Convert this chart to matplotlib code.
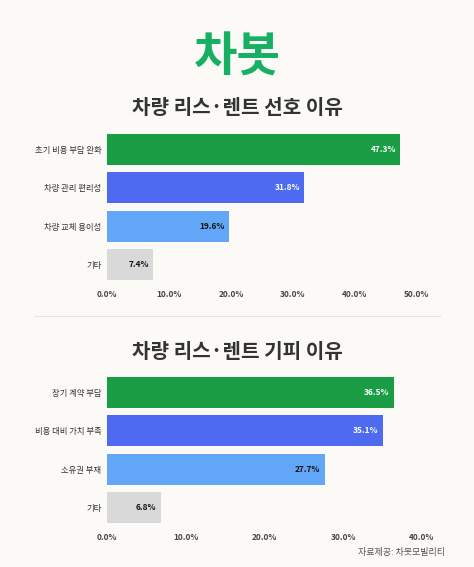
import matplotlib
matplotlib.use("Agg")
import matplotlib.pyplot as plt

plt.rcParams['font.family'] = ['Noto Sans CJK KR', 'DejaVu Sans']

cats1 = ["초기 비용 부담 완화", "차량 관리 편리성", "차량 교체 용이성", "기타"]
vals1 = [47.3, 31.8, 19.6, 7.4]
cats2 = ["장기 계약 부담", "비용 대비 가치 부족", "소유권 부재", "기타"]
vals2 = [36.5, 35.1, 27.7, 6.8]
colors = ["#1a9e45", "#4d6af0", "#62a6f8", "#d9d9d9"]
txtcol = ["white", "white", "#111111", "#111111"]
ticks1 = [0, 10, 20, 30, 40, 50]
ticks2 = [0, 10, 20, 30, 40]

bg = "#fbfaf7"
fig = plt.figure(figsize=(4.74, 5.67), dpi=100, facecolor=bg)

fig.text(0.5, 1 - 58/567, "차봇", ha="center", va="center", fontsize=34,
         fontweight="black", color="#17b063")
fig.text(0.5, 1 - 108/567, "차량 리스·렌트 선호 이유", ha="center", va="center",
         fontsize=14.5, fontweight="bold", color="#333333")
fig.text(0.5, 1 - 352/567, "차량 리스·렌트 기피 이유", ha="center", va="center",
         fontsize=14.5, fontweight="bold", color="#333333")
fig.add_artist(plt.Line2D([35/474, 440/474], [1 - 316/567]*2, color="#e6e4de", lw=0.8))
fig.text(445/474, 1 - 553/567, "자료제공: 차봇모빌리티", ha="right", va="center",
         fontsize=6.5, color="#555555")

def draw(ax, cats, vals, ticks):
    ax.set_facecolor(bg)
    y = range(len(cats))
    ax.barh(list(y), vals, height=0.8, color=colors)
    for i, v in enumerate(vals):
        ax.text(v - 0.6, i, f"{v}%", ha="right", va="center", fontsize=6,
                fontweight="bold", color=txtcol[i])
    ax.set_ylim(len(cats) - 0.5, -0.5)
    ax.set_xlim(0, ticks[-1])
    ax.set_yticks(list(y))
    ax.set_yticklabels(cats, fontsize=6, color="#333333")
    ax.set_xticks(ticks)
    ax.set_xticklabels([f"{t:.1f}%" for t in ticks], fontsize=6,
                       fontweight="bold", color="#444444")
    ax.tick_params(length=0, pad=4)
    for s in ax.spines.values():
        s.set_visible(False)

ax1 = fig.add_axes([107/474, 1 - 284/567, 310/474, 154/567])
draw(ax1, cats1, vals1, ticks1)
ax2 = fig.add_axes([107/474, 1 - 527/567, 315/474, 154/567])
draw(ax2, cats2, vals2, ticks2)

fig.savefig("out.png", dpi=100, facecolor=bg)
